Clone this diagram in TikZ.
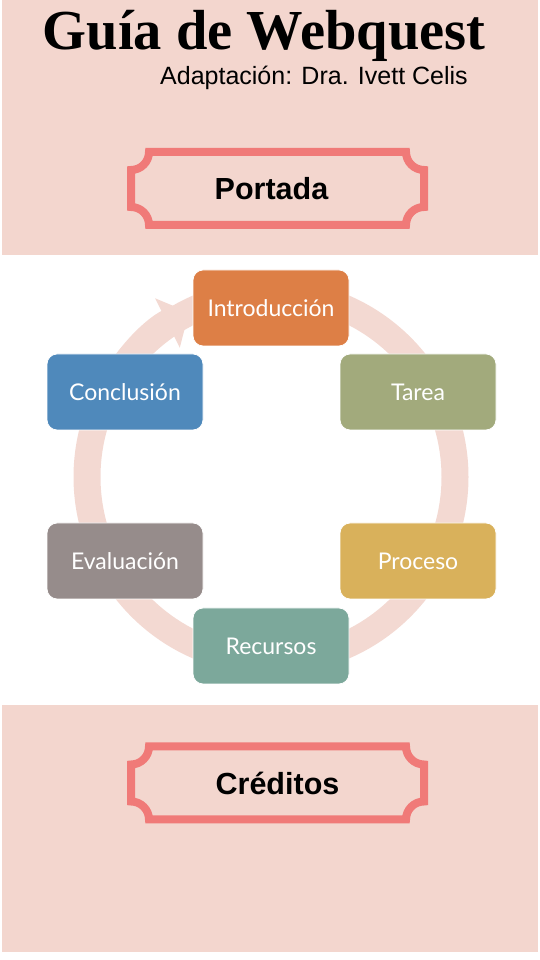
\documentclass[tikz,border=0pt]{standalone}
\usepackage{fontspec}
\setmainfont{Liberation Sans}
\newfontfamily\titlefont{Liberation Serif}
\newfontfamily\cyclefont{Lato}
\usetikzlibrary{arrows.meta, positioning}
\definecolor{rosa}{HTML}{F3D6CE}
\definecolor{anillo}{HTML}{F3D9D2}
\definecolor{marco}{HTML}{F07A78}
\definecolor{naranja}{HTML}{DD7F46}
\definecolor{oliva}{HTML}{A2AA7C}
\definecolor{mostaza}{HTML}{D9B15B}
\definecolor{turquesa}{HTML}{7CA89B}
\definecolor{gris}{HTML}{968C8B}
\definecolor{azul}{HTML}{4F89BB}
\newcommand\notch{18pt}
% frame with concave corners round a node
\newcommand\ticket[1]{%
  \draw[marcobox] ([xshift=\notch]#1.north west) -- ([xshift=-\notch]#1.north east)
    arc[start angle=180, end angle=270, radius=\notch]
    -- ([yshift=\notch]#1.south east)
    arc[start angle=90, end angle=180, radius=\notch]
    -- ([xshift=\notch]#1.south west)
    arc[start angle=0, end angle=90, radius=\notch]
    -- ([yshift=-\notch]#1.north west)
    arc[start angle=270, end angle=360, radius=\notch] -- cycle;}

\begin{document}
\begin{tikzpicture}[x=1pt, y=1pt,
      marcobox/.style={draw=marco, line width=8pt, line join=miter},
      ticketnode/.style={minimum width=293pt, minimum height=73pt,
                         inner sep=0pt, outer sep=0pt,
                         font=\fontsize{30.5}{34}\selectfont\bfseries},
      fase/.style={rectangle, rounded corners=10pt, draw=white, line width=0.8pt,
                   minimum width=156pt, minimum height=76pt, text=white,
                   font=\cyclefont\fontsize{23}{26}\selectfont},
      ring/.style={draw=anillo, line width=27pt} ]

    \useasboundingbox (0,0) rectangle (540,960);
    \fill[rosa] (2,705) rectangle (538,960);
    \fill[rosa] (2,8) rectangle (538,255);

    \node[anchor=base, font=\titlefont\fontsize{56.5}{60}\selectfont\bfseries]
      (titulo) at (264,910) {Guía de Webquest};
    \node[anchor=base west, inner sep=0pt, font=\fontsize{25}{28}\selectfont]
      (autora) at (160,875) {Adaptación: Dra. Ivett Celis};

    \node[ticketnode] (portada) at (277.5,771.5) {\hspace*{-12pt}Portada};
    \ticket{portada}
    \node[ticketnode] (creditos) at (277.5,177) {Créditos};
    \ticket{creditos}

    % ciclo
    \coordinate (hub) at (271,483);
    \draw[ring] (hub) circle[radius=184];
    \draw[ring, -{Triangle[length=24pt, width=54pt]}]
      (hub) ++(155:184) arc[start angle=155, end angle=116.5, radius=184];

    \node[fase, fill=naranja]  (intro)  at (271,652) {Introducción};
    \node[fase, fill=oliva]    (tarea)  at (418,568) {Tarea};
    \node[fase, fill=mostaza]  (proc)   at (418,399) {Proceso};
    \node[fase, fill=turquesa] (recur)  at (271,314) {Recursos};
    \node[fase, fill=gris]     (eval)   at (125,399) {Evaluación};
    \node[fase, fill=azul]     (concl)  at (125,568) {Conclusión};
  \end{tikzpicture}
\end{document}
